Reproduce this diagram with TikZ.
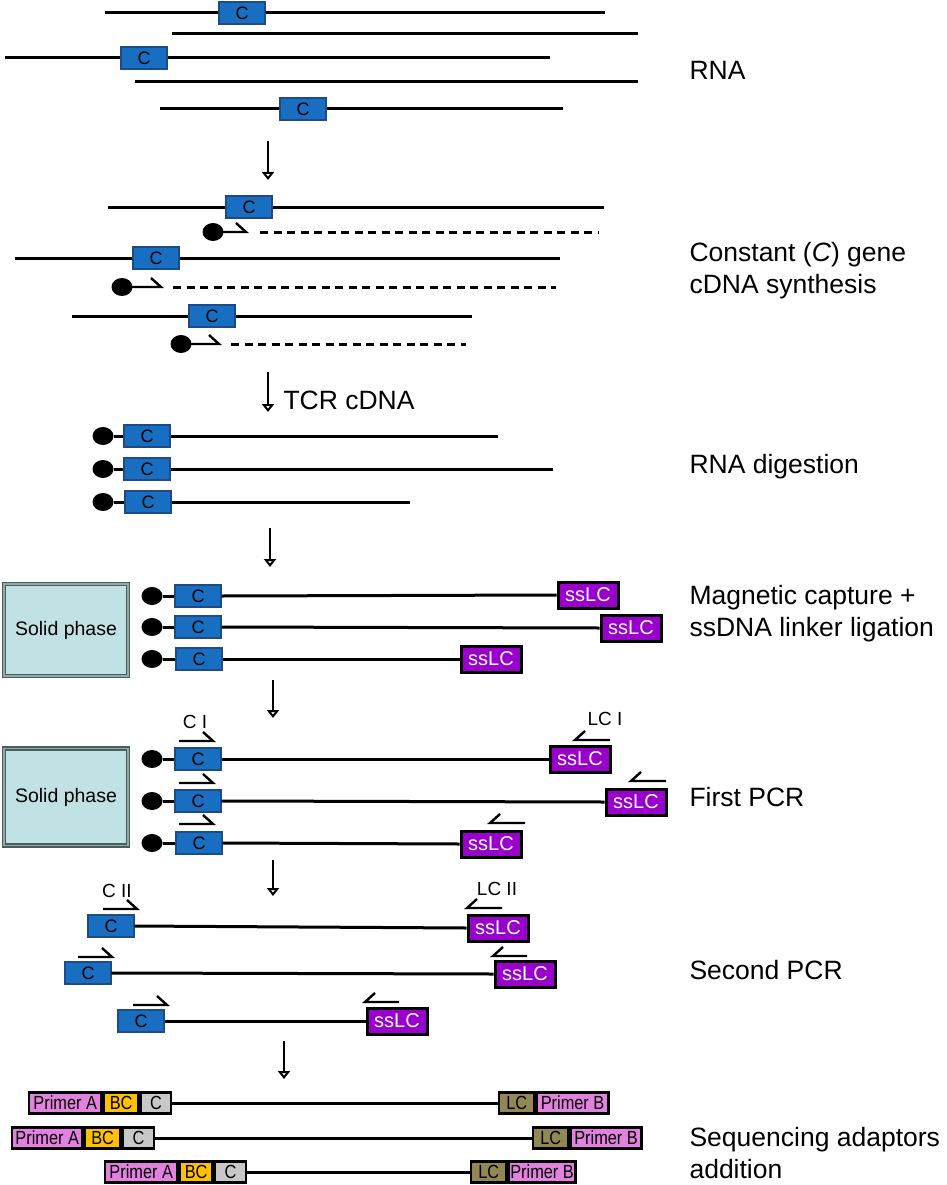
\documentclass[tikz,border=0pt]{standalone}
\usepackage{fontspec}
\usepackage{graphicx}
\setmainfont{Liberation Sans}
\usetikzlibrary{arrows.meta,shapes.geometric}
\newcommand{\narrowtxt}[1]{\scalebox{0.86}[1]{#1}}
\definecolor{cblue}{RGB}{24,110,192}
\definecolor{cedge}{RGB}{30,75,135}
\definecolor{lcpurple}{RGB}{153,0,204}
\definecolor{prpink}{RGB}{226,130,222}
\definecolor{bcorange}{RGB}{255,192,0}
\definecolor{cgray}{RGB}{200,200,200}
\definecolor{lcolive}{RGB}{146,136,84}
\definecolor{solidfill}{RGB}{192,226,228}
\definecolor{soliddraw}{RGB}{70,95,95}
\begin{document}
\begin{tikzpicture}[x=1pt,y=-1pt,
 strand/.style={line width=3pt},
 cdna/.style={line width=3pt, dash pattern=on 8pt off 5.5pt},
 cbox/.style={draw=cedge, fill=cblue, line width=1.2pt, minimum width=46pt, minimum height=22pt, inner sep=0pt, font=\fontsize{18}{18}\selectfont},
 lcbox/.style={draw=black, fill=lcpurple, line width=3pt, minimum width=60pt, minimum height=26pt, inner sep=0pt, text=white, font=\fontsize{20}{20}\selectfont},
 bead/.style={ellipse, fill=black, minimum width=21pt, minimum height=18pt, inner sep=0pt},
 steplabel/.style={anchor=west, font=\fontsize{26.5}{32}\selectfont, align=left},
 flowarrow/.style={line width=2.6pt, -{Triangle[open,length=8pt,width=12pt,line width=2pt]}},
 primer/.style={line width=2.4pt},
 plabel/.style={font=\fontsize{19}{19}\selectfont},
 solidbox/.style={draw=soliddraw, line width=1.4pt, double=soliddraw!55, double distance=1.8pt, fill=solidfill, minimum width=124pt, minimum height=92pt, inner sep=0pt, font=\fontsize{19.5}{19.5}\selectfont},
 adbox/.style={draw=black, line width=2.4pt, minimum height=21pt, inner sep=0pt, anchor=west, font=\fontsize{19}{19}\selectfont},
]
\useasboundingbox (0,0) rectangle (946,1185);

% ---------- RNA ----------
\node[cbox] (r1c) at (242,13) {C};
\coordinate (r1a) at (105,13); \coordinate (r1b) at (605,13);
\draw[strand] (r1a) -- (r1c.west); \draw[strand] (r1c.east) -- (r1b);
\coordinate (r2a) at (172,34); \coordinate (r2b) at (638,34);
\draw[strand] (r2a) -- (r2b);
\node[cbox] (r3c) at (144,58) {C};
\coordinate (r3a) at (5,58); \coordinate (r3b) at (550,58);
\draw[strand] (r3a) -- (r3c.west); \draw[strand] (r3c.east) -- (r3b);
\coordinate (r4a) at (135,82); \coordinate (r4b) at (638,82);
\draw[strand] (r4a) -- (r4b);
\node[cbox] (r5c) at (303,109) {C};
\coordinate (r5a) at (160,109); \coordinate (r5b) at (563,109);
\draw[strand] (r5a) -- (r5c.west); \draw[strand] (r5c.east) -- (r5b);
\node[steplabel] (lrna) at (686,70) {RNA};

\coordinate (a1s) at (268,141); \coordinate (a1e) at (268,180);
\draw[flowarrow] (a1s) -- (a1e);

% ---------- cDNA synthesis ----------
\node[cbox] (s1c) at (249,207) {C};
\coordinate (s1a) at (108,207); \coordinate (s1b) at (604,207);
\draw[strand] (s1a) -- (s1c.west); \draw[strand] (s1c.east) -- (s1b);
\node[bead] (s1d) at (213,232) {};
\coordinate (s1p) at (246,232); \coordinate (s1x) at (260,232); \coordinate (s1y) at (598,232);
\draw[primer] (s1d.center) -- (s1p) -- ++(-10,-9);
\draw[cdna] (s1x) -- (s1y);

\node[cbox] (s2c) at (156,258) {C};
\coordinate (s2a) at (15,258); \coordinate (s2b) at (560,258);
\draw[strand] (s2a) -- (s2c.west); \draw[strand] (s2c.east) -- (s2b);
\node[bead] (s2d) at (122,287) {};
\coordinate (s2p) at (161,287); \coordinate (s2x) at (173,287); \coordinate (s2y) at (556,287);
\draw[primer] (s2d.center) -- (s2p) -- ++(-10,-9);
\draw[cdna] (s2x) -- (s2y);

\node[cbox] (s3c) at (212,316) {C};
\coordinate (s3a) at (72,316); \coordinate (s3b) at (472,316);
\draw[strand] (s3a) -- (s3c.west); \draw[strand] (s3c.east) -- (s3b);
\node[bead] (s3d) at (181,344) {};
\coordinate (s3p) at (219,344); \coordinate (s3x) at (231,344); \coordinate (s3y) at (466,344);
\draw[primer] (s3d.center) -- (s3p) -- ++(-10,-9);
\draw[cdna] (s3x) -- (s3y);

\node[steplabel] (lcdna) at (686,271) {Constant (\textit{C}) gene\\cDNA synthesis};

\coordinate (a2s) at (268,372); \coordinate (a2e) at (268,412);
\draw[flowarrow] (a2s) -- (a2e);
\node[steplabel] (ltcr) at (280,400) {TCR cDNA};

% ---------- RNA digestion ----------
\node[bead] (d1d) at (103,436) {};
\node[cbox] (d1c) at (147,436) {C};
\coordinate (d1b) at (498,436);
\draw[strand] (d1d) -- (d1c.west); \draw[strand] (d1c.east) -- (d1b);
\node[bead] (d2d) at (103,469) {};
\node[cbox] (d2c) at (147,469) {C};
\coordinate (d2b) at (553,469);
\draw[strand] (d2d) -- (d2c.west); \draw[strand] (d2c.east) -- (d2b);
\node[bead] (d3d) at (103,502) {};
\node[cbox] (d3c) at (148,502) {C};
\coordinate (d3b) at (410,502);
\draw[strand] (d3d) -- (d3c.west); \draw[strand] (d3c.east) -- (d3b);
\node[steplabel] (ldig) at (686,467) {RNA digestion};

\coordinate (a3s) at (270,528); \coordinate (a3e) at (270,567);
\draw[flowarrow] (a3s) -- (a3e);

% ---------- Magnetic capture ----------
\node[solidbox] (sp1) at (66,630) {Solid phase};
\node[bead] (m1d) at (152,596) {};
\node[cbox] (m1c) at (198,596) {C};
\node[lcbox] (m1l) at (588,595) {ssLC};
\draw[strand] (m1d) -- (m1c.west); \draw[strand] (m1c.east) -- (m1l.west);
\node[bead] (m2d) at (152,627) {};
\node[cbox] (m2c) at (198,627) {C};
\node[lcbox] (m2l) at (631,628) {ssLC};
\draw[strand] (m2d) -- (m2c.west); \draw[strand] (m2c.east) -- (m2l.west);
\node[bead] (m3d) at (152,659) {};
\node[cbox] (m3c) at (199,659) {C};
\node[lcbox] (m3l) at (491,659) {ssLC};
\draw[strand] (m3d) -- (m3c.west); \draw[strand] (m3c.east) -- (m3l.west);
\node[steplabel] (lmag) at (686,614) {Magnetic capture +\\ssDNA linker ligation};

\coordinate (a4s) at (273,680); \coordinate (a4e) at (273,718);
\draw[flowarrow] (a4s) -- (a4e);

% ---------- First PCR ----------
\node[solidbox, minimum height=97pt] (sp2) at (66,797) {Solid phase};
\node[plabel] (lci) at (195,722) {C I};
\node[plabel] (llci) at (605,719) {LC I};
\node[bead] (f1d) at (152,759) {};
\node[cbox] (f1c) at (198,759) {C};
\node[lcbox] (f1l) at (580,759) {ssLC};
\draw[strand] (f1d) -- (f1c.west); \draw[strand] (f1c.east) -- (f1l.west);
\draw[primer] (179,741) -- (213,741) -- ++(-10,-9);
\draw[primer] (610,740) -- (575,740) -- ++(10,-9);
\node[bead] (f2d) at (152,801) {};
\node[cbox] (f2c) at (198,801) {C};
\node[lcbox] (f2l) at (636,802) {ssLC};
\draw[strand] (f2d) -- (f2c.west); \draw[strand] (f2c.east) -- (f2l.west);
\draw[primer] (179,783) -- (213,783) -- ++(-10,-9);
\draw[primer] (666,781) -- (631,781) -- ++(10,-9);
\node[bead] (f3d) at (152,843) {};
\node[cbox] (f3c) at (199,843) {C};
\node[lcbox] (f3l) at (491,844) {ssLC};
\draw[strand] (f3d) -- (f3c.west); \draw[strand] (f3c.east) -- (f3l.west);
\draw[primer] (179,824) -- (213,824) -- ++(-10,-9);
\draw[primer] (525,823) -- (490,823) -- ++(10,-9);
\node[steplabel] (lpcr1) at (686,797) {First PCR};

\coordinate (a5s) at (273,860); \coordinate (a5e) at (273,896);
\draw[flowarrow] (a5s) -- (a5e);

% ---------- Second PCR ----------
\node[plabel] (lcii) at (117,891) {C II};
\node[plabel] (llcii) at (497,889) {LC II};
\node[cbox] (p1c) at (111,926) {C};
\node[lcbox] (p1l) at (498,928) {ssLC};
\draw[strand] (p1c.east) -- (p1l.west);
\draw[primer] (103,909) -- (137,909) -- ++(-10,-9);
\draw[primer] (502,908) -- (467,908) -- ++(10,-9);
\node[cbox] (p2c) at (88,973) {C};
\node[lcbox] (p2l) at (525,974) {ssLC};
\draw[strand] (p2c.east) -- (p2l.west);
\draw[primer] (78,957) -- (112,957) -- ++(-10,-9);
\draw[primer] (527,956) -- (493,956) -- ++(10,-9);
\node[cbox] (p3c) at (141,1021) {C};
\node[lcbox] (p3l) at (397,1021) {ssLC};
\draw[strand] (p3c.east) -- (p3l.west);
\draw[primer] (133,1005) -- (167,1005) -- ++(-10,-9);
\draw[primer] (399,1002) -- (365,1002) -- ++(10,-9);
\node[steplabel] (lpcr2) at (686,970) {Second PCR};

\coordinate (a6s) at (284,1041); \coordinate (a6e) at (284,1079);
\draw[flowarrow] (a6s) -- (a6e);

% ---------- Sequencing adaptors ----------
\node[adbox, fill=prpink, minimum width=72pt] (q1a) at (28,1103) {\narrowtxt{Primer A}};
\node[adbox, fill=bcorange, minimum width=35pt] (q1b) at (q1a.east) {\narrowtxt{BC}};
\node[adbox, fill=cgray, minimum width=30pt] (q1c) at (q1b.east) {\narrowtxt{C}};
\node[adbox, fill=lcolive, minimum width=35pt] (q1l) at (498,1103) {\narrowtxt{LC}};
\node[adbox, fill=prpink, minimum width=72pt] (q1p) at (q1l.east) {\narrowtxt{Primer B}};
\draw[strand] (q1c.east) -- (q1l.west);

\node[adbox, fill=prpink, minimum width=70pt] (q2a) at (11,1138) {\narrowtxt{Primer A}};
\node[adbox, fill=bcorange, minimum width=36pt] (q2b) at (q2a.east) {\narrowtxt{BC}};
\node[adbox, fill=cgray, minimum width=31pt] (q2c) at (q2b.east) {\narrowtxt{C}};
\node[adbox, fill=lcolive, minimum width=35pt] (q2l) at (532,1138) {\narrowtxt{LC}};
\node[adbox, fill=prpink, minimum width=71pt] (q2p) at (q2l.east) {\narrowtxt{Primer B}};
\draw[strand] (q2c.east) -- (q2l.west);

\node[adbox, fill=prpink, minimum width=72pt] (q3a) at (104,1172) {\narrowtxt{Primer A}};
\node[adbox, fill=bcorange, minimum width=33pt] (q3b) at (q3a.east) {\narrowtxt{BC}};
\node[adbox, fill=cgray, minimum width=31pt] (q3c) at (q3b.east) {\narrowtxt{C}};
\node[adbox, fill=lcolive, minimum width=35pt] (q3l) at (470,1172) {\narrowtxt{LC}};
\node[adbox, fill=prpink, minimum width=67pt] (q3p) at (q3l.east) {\narrowtxt{Primer B}};
\draw[strand] (q3c.east) -- (q3l.west);

\node[steplabel] (lseq) at (686,1153) {Sequencing adaptors\\addition};
\end{tikzpicture}
\end{document}
